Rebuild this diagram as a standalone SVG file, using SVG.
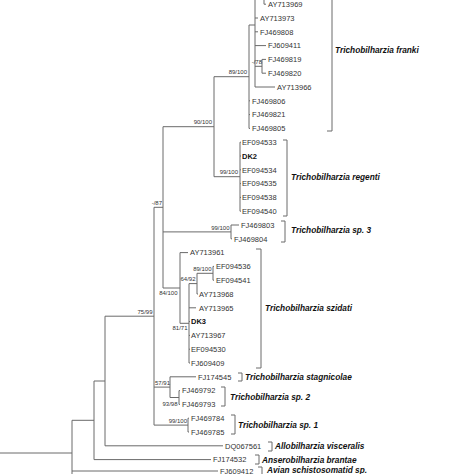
<svg xmlns="http://www.w3.org/2000/svg" width="474" height="474" viewBox="0 0 474 474">
<style>
.e{fill:none;stroke:#6a6a6a;stroke-width:1}
.b{fill:none;stroke:#6a6a6a;stroke-width:1}
.l{font-family:"Liberation Sans",Arial,sans-serif;font-size:7.5px;fill:#333}
.k{font-weight:bold;fill:#111}
.s{font-family:"Liberation Sans",Arial,sans-serif;font-size:8.3px;font-weight:bold;font-style:italic;fill:#111}
.n{font-family:"Liberation Sans",Arial,sans-serif;font-size:6px;fill:#333}
.r{text-anchor:end}
</style>
<rect width="474" height="474" fill="#fff"/>
<g id="connectors">
<path class="e" d="M255,-37V87M264,-10V4.2M264,4.2H266M255,18H258M255,31.8H258M255,45.6H266M262,59.4V73.2M255,66.3H262M262,59.4H266M262,73.2H266M255,87H275M249,25H255M249,25V128.4M249,100.8H250M249,114.6H250M249,128.4H250"/>
<path class="e" d="M214,76.7H249M240,142.2V211.2M240,142.2H241M240,156H241M240,169.8H241M240,183.6H241M240,197.4H241M240,211.2H241M214,176.7H240M214,76.7V176.7M163,126.7H214"/>
<path class="e" d="M231,225V238.8M231,225H239M231,238.8H232M163,231.9H231"/>
<path class="e" d="M213,266.4V280.2M213,266.4H214M213,280.2H214M197,273.3H213M197,273.3V294M197,294H198M189,283.6H197M189,283.6V363M189,307.8H196M189,321.6H190M189,335.4H190M189,349.2H190M189,363H190M180,252.6V323.3M180,252.6H188M180,323.3H189M163,288H180M163,126.7V288M154,207.3H163"/>
<path class="e" d="M170,376.8V397.5M170,376.8H196M179,390.6V404.4M179,390.6H180M179,404.4H180M170,397.5H179M154,387.1H170M188,418.2V432M188,418.2H189M188,432H189M154,425.1H188M154,207.3V425.1"/>
<path class="e" d="M105,316.2H154M105,316.2V445.8M105,445.8H223M94,381H105M94,381V459.6M94,459.6H211M72,420.3H94M72,420.3V490M72,471H218M0,453H72"/>
</g>
<g id="brackets">
<path class="b" d="M332,-5V131H327"/>
<path class="b" d="M283,140H287V216H283"/>
<path class="b" d="M281,221H285V242H281"/>
<path class="b" d="M256,249H261V368H256"/>
<path class="b" d="M238,373H242V381H238"/>
<path class="b" d="M221,387H225V406H221"/>
<path class="b" d="M231,415H235V434H231"/>
<path class="b" d="M268,442H272V451H268"/>
<path class="b" d="M255,455H259V464H255"/>
<path class="b" d="M258,467H262V476H258"/>
</g>
<g id="support">
<text class="n r" x="262" y="64">-/78</text>
<text class="n r" x="247" y="74">89/100</text>
<text class="n r" x="212" y="124">90/100</text>
<text class="n r" x="238" y="174">99/100</text>
<text class="n r" x="162" y="204.5">-/87</text>
<text class="n r" x="229.5" y="229.5">99/100</text>
<text class="n r" x="211.5" y="271">89/100</text>
<text class="n r" x="195.5" y="281">64/92</text>
<text class="n r" x="177.5" y="294.5">84/100</text>
<text class="n r" x="152.5" y="314">75/99</text>
<text class="n r" x="187.5" y="329.5">81/71</text>
<text class="n" x="155" y="385">57/91</text>
<text class="n r" x="177.5" y="405.5">93/98</text>
<text class="n r" x="187" y="423">99/100</text>
</g>
<g id="leaves">
<text class="l" x="268" y="6.9">AY713969</text>
<text class="l" x="260" y="20.7">AY713973</text>
<text class="l" x="260" y="34.5">FJ469808</text>
<text class="l" x="268" y="48.3">FJ609411</text>
<text class="l" x="268" y="62.1">FJ469819</text>
<text class="l" x="268" y="75.9">FJ469820</text>
<text class="l" x="277" y="89.7">AY713966</text>
<text class="l" x="252" y="103.5">FJ469806</text>
<text class="l" x="252" y="117.3">FJ469821</text>
<text class="l" x="252" y="131.1">FJ469805</text>
<text class="l" x="242" y="144.9">EF094533</text>
<text class="l k" x="242" y="158.7">DK2</text>
<text class="l" x="242" y="172.5">EF094534</text>
<text class="l" x="242" y="186.3">EF094535</text>
<text class="l" x="242" y="200.1">EF094538</text>
<text class="l" x="242" y="213.9">EF094540</text>
<text class="l" x="241" y="227.7">FJ469803</text>
<text class="l" x="234" y="241.5">FJ469804</text>
<text class="l" x="190" y="255.3">AY713961</text>
<text class="l" x="216" y="269.1">EF094536</text>
<text class="l" x="216" y="282.9">EF094541</text>
<text class="l" x="199" y="296.7">AY713968</text>
<text class="l" x="199" y="310.5">AY713965</text>
<text class="l k" x="191" y="324.3">DK3</text>
<text class="l" x="191" y="338.1">AY713967</text>
<text class="l" x="191" y="351.9">EF094530</text>
<text class="l" x="191" y="365.7">FJ609409</text>
<text class="l" x="198" y="379.5">FJ174545</text>
<text class="l" x="182" y="393.3">FJ469792</text>
<text class="l" x="182" y="407.1">FJ469793</text>
<text class="l" x="191" y="420.9">FJ469784</text>
<text class="l" x="191" y="434.7">FJ469785</text>
<text class="l" x="225" y="448.5">DQ067561</text>
<text class="l" x="213" y="462.3">FJ174532</text>
<text class="l" x="220" y="473.5">FJ609412</text>
</g>
<g id="species">
<text class="s" x="335" y="53">Trichobilharzia franki</text>
<text class="s" x="291" y="180">Trichobilharzia regenti</text>
<text class="s" x="291" y="233">Trichobilharzia sp. 3</text>
<text class="s" x="265" y="311">Trichobilharzia szidati</text>
<text class="s" x="245" y="380">Trichobilharzia stagnicolae</text>
<text class="s" x="230" y="400">Trichobilharzia sp. 2</text>
<text class="s" x="238" y="428">Trichobilharzia sp. 1</text>
<text class="s" x="275" y="449">Allobilharzia visceralis</text>
<text class="s" x="262" y="463">Anserobilharzia brantae</text>
<text class="s" x="267" y="472.5">Avian schistosomatid sp.</text>
</g>
</svg>
